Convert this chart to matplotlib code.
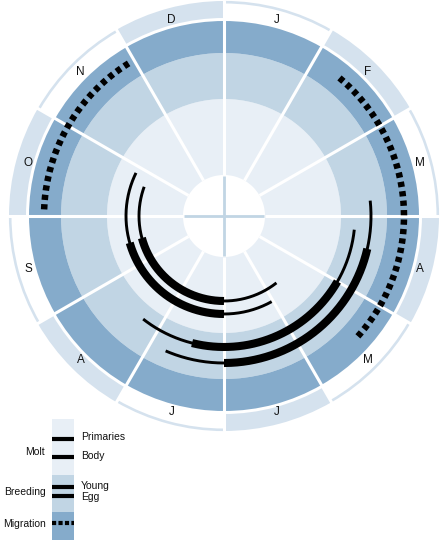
import numpy as np
import matplotlib.pyplot as plt
from matplotlib.patches import Rectangle

plt.rcParams['font.family'] = ['Liberation Sans Narrow', 'Liberation Sans', 'DejaVu Sans']

# months, clockwise from the top
months = ['J', 'F', 'M', 'A', 'M', 'J', 'J', 'A', 'S', 'O', 'N', 'D']

# background rings (radius in px from centre)
ring_edges = [41, 117, 163, 195]
ring_colors = ['#e8eff6', '#c1d5e4', '#85abcb']
outer_color = '#d5e2ee'

# molt arcs, values in months from Jan 1
molt_names = ['Primaries', 'Body']
molt_radius = [85, 98]
molt_start = [4.73, 5.03]
molt_end = [9.67, 9.87]
molt_thick_start = [6.0, 6.0]
molt_thick_end = [8.5, 8.47]

# breeding arcs
breed_names = ['Young', 'Egg']
breed_radius = [131, 147]
breed_start = [3.2, 2.8]
breed_end = [7.27, 6.78]
breed_thick_start = [4.0, 3.43]
breed_thick_end = [6.47, 6.0]

# migration (spring, fall)
migration_radius = 180
migration_start = [1.33, 9.07]
migration_end = [4.4, 10.97]


def rad(m):
    return np.asarray(m) * np.pi / 6


fig = plt.figure(figsize=(4.42, 5.4), dpi=100)

#-------------------------------
# legend (pixel coordinates)
#-------------------------------
axl = fig.add_axes([0, 0, 1, 1])
axl.set_xlim(0, 442)
axl.set_ylim(540, 0)
axl.set_axis_off()

axl.add_patch(Rectangle((52, 419), 22, 56, color=ring_colors[0], lw=0))
axl.add_patch(Rectangle((52, 475), 22, 37, color=ring_colors[1], lw=0))
axl.add_patch(Rectangle((52, 512), 22, 28, color=ring_colors[2], lw=0))
for y in [439, 457, 487, 496]:
    axl.plot([52, 74], [y, y], color='black', lw=3.0, solid_capstyle='butt')
axl.plot([52, 74], [523, 523], color='black', lw=3.0, dashes=(1.0, 0.55),
         dash_capstyle='butt')

lab_kw = dict(fontsize=7.5, va='center', color='#111111')
axl.text(45, 452, 'Molt', ha='right', **lab_kw)
axl.text(46, 492, 'Breeding', ha='right', **lab_kw)
axl.text(46, 524, 'Migration', ha='right', **lab_kw)
axl.text(81, 437, molt_names[0], ha='left', **lab_kw)
axl.text(81, 456, molt_names[1], ha='left', **lab_kw)
axl.text(81, 486, breed_names[0], ha='left', **lab_kw)
axl.text(81, 497, breed_names[1], ha='left', **lab_kw)

#-------------------------------
# circular calendar
#-------------------------------
cx, cy, R = 224, 216, 216
ax = fig.add_axes([(cx - R) / 442, (540 - cy - R) / 540, 2 * R / 442, 2 * R / 540],
                  projection='polar')
ax.set_theta_zero_location('N')
ax.set_theta_direction(-1)
ax.set_ylim(0, R)
ax.set_axis_off()

centers = rad(np.arange(12) + 0.5)
width = np.pi / 6
for i, c in enumerate(ring_colors):
    ax.bar(centers, ring_edges[i + 1] - ring_edges[i], width=width,
           bottom=ring_edges[i], color=c, lw=0, zorder=1)

# outer month ring: even months filled, odd months only a thin rim
for i in range(12):
    if i % 2 == 1:
        ax.bar(centers[i], 17, width=width, bottom=198, color=outer_color, lw=0, zorder=1)
    else:
        ax.bar(centers[i], 2.6, width=width, bottom=212.5, color=outer_color, lw=0, zorder=1)

# white month dividers and blue centre cross
for k in range(12):
    t = rad(k)
    ax.plot([t, t], [41, 218], color='white', lw=2.2, zorder=2, solid_capstyle='butt')
for k in range(0, 12, 3):
    t = rad(k)
    ax.plot([t, t], [0, 40], color=ring_colors[1], lw=2.0, zorder=2, solid_capstyle='butt')

for i in range(12):
    ax.text(centers[i], 203, months[i], ha='center', va='center', fontsize=8.5,
            family=['Liberation Sans', 'DejaVu Sans'], color='#111111', zorder=5)


def draw_arc(r, start, end, tstart, tend):
    th = np.linspace(rad(start), rad(end), 200)
    ax.plot(th, np.full_like(th, r), color='black', lw=2.1, solid_capstyle='butt', zorder=3)
    th = np.linspace(rad(tstart), rad(tend), 200)
    ax.plot(th, np.full_like(th, r), color='black', lw=5.8, solid_capstyle='butt', zorder=3)


for i in range(2):
    draw_arc(molt_radius[i], molt_start[i], molt_end[i], molt_thick_start[i], molt_thick_end[i])
    draw_arc(breed_radius[i], breed_start[i], breed_end[i], breed_thick_start[i], breed_thick_end[i])

for s, e in zip(migration_start, migration_end):
    th = np.linspace(rad(s), rad(e), 300)
    ax.plot(th, np.full_like(th, migration_radius), color='black', lw=4.7,
            dashes=(0.8, 0.65), dash_capstyle='butt', zorder=3)

plt.savefig('out.png', dpi=100)
